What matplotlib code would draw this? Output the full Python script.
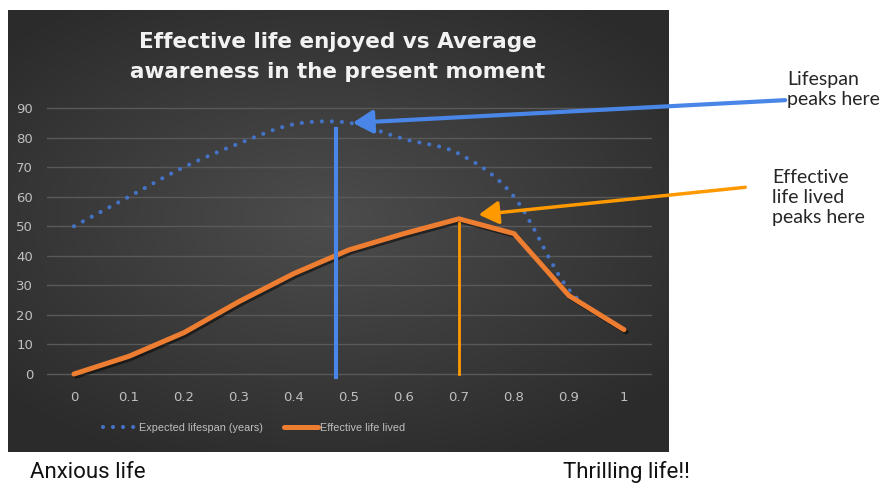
import matplotlib

matplotlib.use("Agg")

import matplotlib.pyplot as plt
import matplotlib.patheffects as pe
import numpy as np
from matplotlib import font_manager
from matplotlib.lines import Line2D
from matplotlib.path import Path
from matplotlib.patches import PathPatch, FancyArrowPatch

# values
awareness = [0, 0.1, 0.2, 0.3, 0.4, 0.5, 0.6, 0.7, 0.8, 0.9, 1]
lifespan = [50, 60, 70, 78, 84.5, 85, 79.5, 74.5, 60, 28.5, 15]
effective = [0, 6, 14, 24.5, 34, 42, 47.5, 52.5, 47.5, 26.5, 15]
x_ticks = [0, 0.1, 0.2, 0.3, 0.4, 0.5, 0.6, 0.7, 0.8, 0.9, 1]
x_labels = ["0", "0.1", "0.2", "0.3", "0.4", "0.5", "0.6", "0.7", "0.8", "0.9", "1"]
y_ticks = [0, 10, 20, 30, 40, 50, 60, 70, 80, 90]
lifespan_peak_x, lifespan_peak_y = 0.476, 83
effective_peak_x, effective_peak_y = 0.7, 51

W, H = 888, 495
BLUE = "#4472c4"
ORANGE = "#ed7d31"
ARROW_BLUE = "#4a86e8"
ARROW_ORANGE = "#ff9900"
TICK = "#bfbfbf"

installed = {f.name for f in font_manager.fontManager.ttflist}
NARROW = "Liberation Sans Narrow" if "Liberation Sans Narrow" in installed else "Liberation Sans"
narrow_size = 10 if NARROW == "Liberation Sans Narrow" else 7.8


def px(x, y):
    """pixel (from top-left) -> figure fraction"""
    return x / W, 1 - y / H


def smooth_path(xs, ys):
    """Catmull-Rom style Bezier path through the points (like Excel's smoothed line)."""
    pts = np.column_stack([xs, ys]).astype(float)
    verts = [pts[0]]
    codes = [Path.MOVETO]
    n = len(pts)
    for i in range(n - 1):
        p0 = pts[max(i - 1, 0)]
        p1, p2 = pts[i], pts[i + 1]
        p3 = pts[min(i + 2, n - 1)]
        verts += [p1 + (p2 - p0) / 6, p2 - (p3 - p1) / 6, p2]
        codes += [Path.CURVE4] * 3
    return Path(verts, codes)


fig = plt.figure(figsize=(W / 100, H / 100), dpi=100)
fig.patch.set_facecolor("white")

# dark panel with soft radial gradient
x0, y0 = px(8, 452)
x1, y1 = px(668, 10)
bg = fig.add_axes([x0, y0, x1 - x0, y1 - y0])
gx, gy = np.meshgrid(np.linspace(-1, 1, 300), np.linspace(-1, 1, 200))
r = np.sqrt(((gx + 0.03) / 1.1) ** 2 + ((gy + 0.05) / 1.0) ** 2)
shade = 0.30 - 0.13 * np.clip(r, 0, 1.2) / 1.2
bg.imshow(np.dstack([shade] * 3), extent=[0, 1, 0, 1], aspect="auto")
bg.set_axis_off()

# plot axes
ylo, yhi = -2, 92
ppu = (374 - 108) / 90
ax_l, ax_b = px(47, 374 - ylo * ppu)
ax_r, ax_t = px(652, 374 - yhi * ppu)
ax = fig.add_axes([ax_l, ax_b, ax_r - ax_l, ax_t - ax_b])
ax.patch.set_visible(False)
ax.set_xlim(-27 / 550, 1 + 28 / 550)
ax.set_ylim(ylo, yhi)
for s in ax.spines.values():
    s.set_visible(False)
for yv in y_ticks:
    ax.axhline(yv, color="#595959", lw=1, zorder=0)

ax.set_xticks(x_ticks, x_labels)
ax.set_yticks(y_ticks)
ax.tick_params(length=0, colors=TICK, labelsize=9.5, pad=8)
ax.tick_params(axis="y", pad=10)

# smoothed dotted lifespan curve
lp = PathPatch(smooth_path(awareness, lifespan), fill=False, edgecolor=BLUE,
               lw=3.0, linestyle=(0, (0.01, 2.4)), capstyle="round", zorder=3)
ax.add_patch(lp)

ax.plot(awareness, effective, color=ORANGE, lw=3.6, solid_capstyle="round",
        zorder=4,
        path_effects=[pe.SimpleLineShadow(offset=(1.5, -1.5), alpha=0.5), pe.Normal()])

# peak markers
ax.plot([lifespan_peak_x, lifespan_peak_x], [-1, lifespan_peak_y],
        color=ARROW_BLUE, lw=3, zorder=5)
ax.plot([effective_peak_x, effective_peak_x], [0, effective_peak_y],
        color=ARROW_ORANGE, lw=2, zorder=5)

# title
fig.text(*px(338, 57), "Effective life enjoyed vs Average\nawareness in the present moment",
         ha="center", va="center", color="#f2f2f2", fontsize=15.5,
         fontweight="bold", linespacing=1.6, family="DejaVu Sans")

# legend
handles = [
    Line2D([], [], color=BLUE, lw=3.0, linestyle=(0, (0.01, 2.4)), dash_capstyle="round"),
    Line2D([], [], color=ORANGE, lw=3.6, solid_capstyle="round"),
]
fig.legend(handles, ["Expected lifespan (years)", "Effective life lived"],
           loc="center", bbox_to_anchor=px(254, 428), ncol=2, frameon=False,
           labelcolor=TICK, handlelength=3.2, handletextpad=0.15,
           columnspacing=1.9, prop={"family": NARROW, "size": narrow_size})

# arrows pointing at the peaks
fig.patches.append(FancyArrowPatch(px(788, 100), px(350, 123), transform=fig.transFigure,
                                   arrowstyle="-|>,head_length=12,head_width=7",
                                   color=ARROW_BLUE, lw=3, mutation_scale=1))
fig.patches.append(FancyArrowPatch(px(748, 187), px(476, 215), transform=fig.transFigure,
                                   arrowstyle="-|>,head_length=12,head_width=7",
                                   color=ARROW_ORANGE, lw=2.5, mutation_scale=1))

note = dict(color="#262626", fontsize=14, family="Lato", linespacing=1.2, va="top", ha="left")
fig.text(*px(787, 71), "Lifespan\npeaks here", **note)
fig.text(*px(772, 169), "Effective\nlife lived\npeaks here", **note)

bottom = dict(color="#111111", fontsize=16, family="Roboto", va="center")
fig.text(*px(30, 472), "Anxious life", ha="left", **bottom)
fig.text(*px(690, 472), "Thrilling life!!", ha="right", **bottom)

fig.savefig("out.png", dpi=100)
